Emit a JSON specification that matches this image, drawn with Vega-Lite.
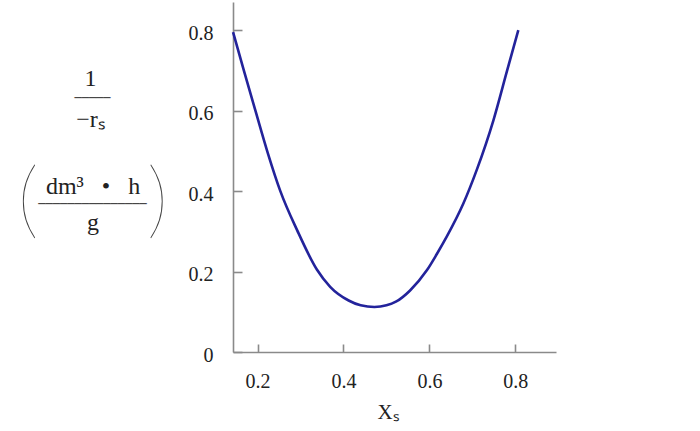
{
  "$schema": "https://vega.github.io/schema/vega-lite/v6.json",
  "width": 323,
  "height": 350,
  "autosize": "none",
  "padding": {"left": 233, "top": 2, "right": 144, "bottom": 79},
  "background": "white",
  "config": {
    "view": {"stroke": null},
    "font": "Liberation Serif",
    "axis": {
      "grid": false,
      "domainColor": "#8a8a8a",
      "domainWidth": 1.6,
      "tickColor": "#8a8a8a",
      "tickWidth": 1.6,
      "labelFont": "Liberation Serif",
      "labelFontSize": 20,
      "labelColor": "#222222",
      "titleFont": "Liberation Serif",
      "titleFontWeight": "normal",
      "titleColor": "#222222",
      "titleAngle": 0
    }
  },
  "data": {
    "values": [
      {"x": 0.143, "y": 0.795},
      {"x": 0.168, "y": 0.7},
      {"x": 0.195, "y": 0.6},
      {"x": 0.224, "y": 0.494},
      {"x": 0.253, "y": 0.4},
      {"x": 0.292, "y": 0.303},
      {"x": 0.338, "y": 0.205},
      {"x": 0.369, "y": 0.162},
      {"x": 0.412, "y": 0.128},
      {"x": 0.44, "y": 0.116},
      {"x": 0.472, "y": 0.112},
      {"x": 0.5, "y": 0.116},
      {"x": 0.522, "y": 0.125},
      {"x": 0.555, "y": 0.153},
      {"x": 0.594, "y": 0.203},
      {"x": 0.617, "y": 0.243},
      {"x": 0.64, "y": 0.286},
      {"x": 0.679, "y": 0.369},
      {"x": 0.71, "y": 0.452},
      {"x": 0.749, "y": 0.576},
      {"x": 0.781, "y": 0.7},
      {"x": 0.807, "y": 0.8}
    ]
  },
  "encoding": {
    "x": {
      "field": "x",
      "type": "quantitative",
      "scale": {"domain": [0.1428, 0.8947], "nice": false, "zero": false},
      "axis": {
        "values": [0.2, 0.4, 0.6, 0.8],
        "format": "~g",
        "tickSize": -8,
        "labelPadding": 27,
        "labelBaseline": "top",
        "title": "Xₛ",
        "titleFontSize": 21,
        "titleX": 155,
        "titleY": 66,
        "titleAlign": "center",
        "titleBaseline": "alphabetic"
      }
    }
  },
  "layer": [
    {
      "mark": {"type": "line", "color": "#23239b", "strokeWidth": 2.6, "interpolate": "monotone"},
      "encoding": {
        "y": {
          "field": "y",
          "type": "quantitative",
          "scale": {"domain": [0, 0.87], "nice": false},
          "axis": {
            "orient": "left",
            "values": [0, 0.2, 0.4, 0.6, 0.8],
            "format": "~g",
            "tickSize": -9,
            "labelPadding": 29,
            "labelOffset": 3,
            "title": ["1", "−rₛ"],
            "titleFontSize": 24,
            "titleLineHeight": 41,
            "titleX": -143,
            "titleY": 83.7,
            "titleAlign": "center",
            "titleBaseline": "alphabetic"
          }
        }
      }
    },
    {
      "mark": {"type": "line", "opacity": 0},
      "encoding": {
        "y": {
          "field": "y",
          "type": "quantitative",
          "axis": {
            "orient": "left",
            "domain": false,
            "ticks": false,
            "labels": false,
            "title": ["dm³\u00a0\u00a0\u00a0•\u00a0\u00a0\u00a0h", "g"],
            "titleFontSize": 24,
            "titleLineHeight": 36,
            "titleX": -140.5,
            "titleY": 191.3,
            "titleAlign": "center",
            "titleBaseline": "alphabetic"
          }
        }
      }
    },
    {
      "mark": {"type": "line", "opacity": 0},
      "encoding": {
        "y": {
          "field": "y",
          "type": "quantitative",
          "axis": {
            "orient": "left",
            "domain": false,
            "ticks": false,
            "labels": false,
            "title": ["─────", "───────────────"],
            "titleFont": "DejaVu Sans Mono",
            "titleFontSize": 12,
            "titleColor": "#333333",
            "titleLineHeight": 106.5,
            "titleX": -141,
            "titleY": 99,
            "titleAlign": "center",
            "titleBaseline": "alphabetic"
          }
        }
      }
    },
    {
      "mark": {"type": "line", "opacity": 0},
      "encoding": {
        "y": {
          "field": "y",
          "type": "quantitative",
          "axis": {
            "orient": "left",
            "domain": false,
            "ticks": false,
            "labels": false,
            "title": "(",
            "titleFont": "Lato",
            "titleFontWeight": 100,
            "titleFontSize": 84,
            "titleColor": "#444444",
            "titleX": -205.5,
            "titleY": 225,
            "titleAlign": "center",
            "titleBaseline": "alphabetic"
          }
        }
      }
    },
    {
      "mark": {"type": "line", "opacity": 0},
      "encoding": {
        "y": {
          "field": "y",
          "type": "quantitative",
          "axis": {
            "orient": "left",
            "domain": false,
            "ticks": false,
            "labels": false,
            "title": ")",
            "titleFont": "Lato",
            "titleFontWeight": 100,
            "titleFontSize": 84,
            "titleColor": "#444444",
            "titleX": -76,
            "titleY": 225,
            "titleAlign": "center",
            "titleBaseline": "alphabetic"
          }
        }
      }
    }
  ],
  "resolve": {"axis": {"y": "independent"}}
}
